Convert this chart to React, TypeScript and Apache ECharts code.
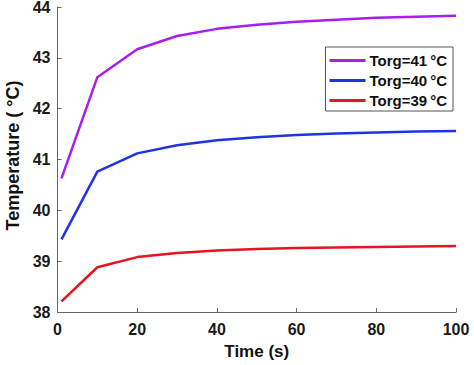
import React, { useEffect, useRef } from "react";
import * as echarts from "echarts";

const timeS = [1, 10, 20, 30, 40, 50, 60, 70, 80, 90, 100];
const torg41 = [40.63, 42.62, 43.17, 43.43, 43.57, 43.65, 43.71, 43.75, 43.79, 43.81, 43.83];
const torg40 = [39.43, 40.76, 41.12, 41.28, 41.38, 41.44, 41.48, 41.51, 41.53, 41.55, 41.56];
const torg39 = [38.21, 38.88, 39.08, 39.16, 39.21, 39.24, 39.26, 39.27, 39.28, 39.29, 39.3];
const seriesNames = ["Torg=41\u2009°C", "Torg=40\u2009°C", "Torg=39\u2009°C"];
const seriesColors = ["#a61ff0", "#1e32e6", "#e6141e"];

export default function App() {
  const ref = useRef<HTMLDivElement>(null);
  useEffect(() => {
    if (!ref.current) return;
    const chart = echarts.init(ref.current, null, { renderer: "svg" });
    const font = "'Liberation Sans', Arial, Helvetica, sans-serif";
    const datasets = [torg41, torg40, torg39];
    chart.setOption({
      animation: false,
      textStyle: { fontFamily: font },
      grid: { left: 57.5, right: 18, top: 7, bottom: 53, containLabel: false, outerBoundsMode: "none" },
      legend: {
        orient: "vertical",
        right: 21,
        top: 47,
        data: seriesNames,
        icon: "rect",
        borderColor: "#555",
        borderWidth: 1,
        borderRadius: 0,
        padding: [6, 6, 3, 4],
        itemGap: 5,
        itemWidth: 36,
        itemHeight: 3,
        textStyle: { fontFamily: font, fontWeight: "bold", fontSize: 15, color: "#111", padding: [0, 0, 0, -1] },
      },
      xAxis: {
        type: "value",
        min: 0,
        max: 100,
        interval: 20,
        name: "Time (s)",
        nameLocation: "middle",
        nameGap: 31,
        nameTextStyle: { fontFamily: font, fontWeight: "bold", fontSize: 17, color: "#111" },
        axisLine: { lineStyle: { color: "#666", width: 1 } },
        axisTick: { inside: true, length: 4, lineStyle: { color: "#666" } },
        axisLabel: { fontFamily: font, fontWeight: "bold", fontSize: 16, color: "#1a1a1a", margin: 9 },
        splitLine: { show: false },
      },
      yAxis: {
        type: "value",
        min: 38,
        max: 44,
        interval: 1,
        name: "Temperature ( °C)",
        nameLocation: "middle",
        nameGap: 34,
        nameTextStyle: { fontFamily: font, fontWeight: "bold", fontSize: 18, color: "#111", padding: [0, 0, 0, 8] },
        axisLine: { show: true, lineStyle: { color: "#666", width: 1 } },
        axisTick: { show: true, inside: true, length: 4, lineStyle: { color: "#666" } },
        axisLabel: { fontFamily: font, fontWeight: "bold", fontSize: 16, color: "#1a1a1a", margin: 7 },
        splitLine: { show: false },
      },
      series: datasets.map((d, i) => ({
        name: seriesNames[i],
        type: "line",
        symbol: "none",
        color: seriesColors[i],
        lineStyle: { width: 2.5, color: seriesColors[i] },
        data: timeS.map((t, j) => [t, d[j]]),
      })),
    });
    return () => chart.dispose();
  }, []);
  return <div ref={ref} style={{ width: 474, height: 365, position: "absolute", left: 0, top: 0 }} />;
}
